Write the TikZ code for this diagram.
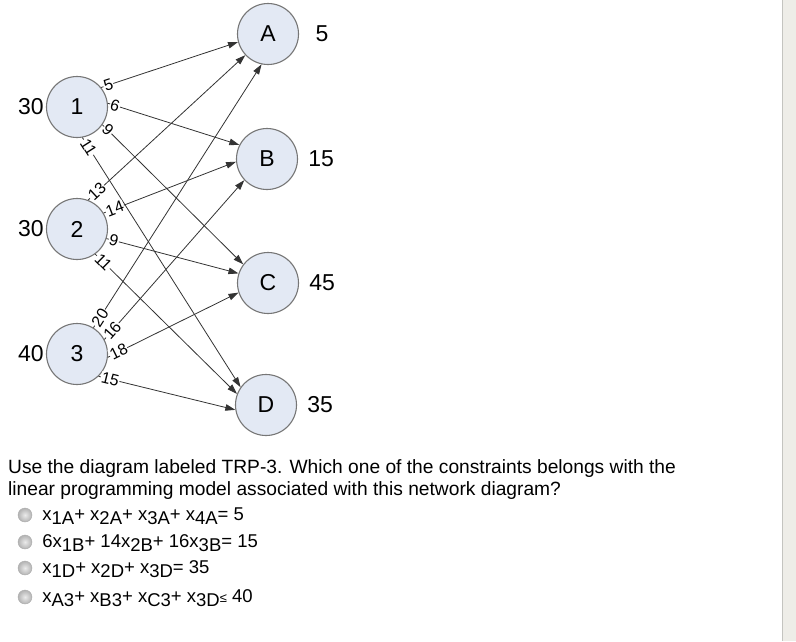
\documentclass[tikz,border=0pt]{standalone}
\usepackage{fontspec}
\setmainfont{Liberation Sans}
\usetikzlibrary{arrows.meta}

\definecolor{nodefill}{HTML}{E3E9F4}
\definecolor{nodeline}{HTML}{767676}
\definecolor{arrowgray}{HTML}{333333}
\definecolor{stripe}{HTML}{EEEDE8}
\definecolor{stripeline}{HTML}{C4C4C0}
\definecolor{radiorim}{HTML}{ABABAB}

\begin{document}
\begin{tikzpicture}[x=1pt,y=-1pt,
	site/.style={circle, draw=nodeline, fill=nodefill, line width=1.1pt,
		minimum size=61pt, inner sep=0pt, font=\fontsize{23}{23}\selectfont},
	flow/.style={draw=arrowgray, line width=0.8pt,
		-{Triangle[length=10pt,width=6.5pt]}},
	cost/.style={sloped, pos=0, anchor=west, outer xsep=2.5pt, fill=white,
		inner sep=0.6pt, font=\fontsize{16}{16}\selectfont},
	amount/.style={font=\fontsize{23}{23}\selectfont, inner sep=0pt},
	radio/.style={circle, draw=radiorim, inner sep=0pt, minimum size=14pt,
		inner color=black!8, outer color=black!30}]
	\useasboundingbox (0,0) rectangle (796,641);
	% scrollbar strip on the right
	\fill[stripe] (782,0) rectangle (796,641);
	\draw[stripeline, line width=1.2pt] (782.6,0) -- (782.6,641);

	% sources and sinks
	\node[site] (n1) at (77,107) {1};
	\node[site] (n2) at (77,229) {2};
	\node[site] (n3) at (77,354) {3};
	\node[site] (A) at (268,34) {A};
	\node[site] (B) at (267,159) {B};
	\node[site] (C) at (268,283) {C};
	\node[site] (D) at (266,405) {D};

	\foreach \src/\amt in {n1/30, n2/30, n3/40}
		\node[amount, anchor=east, xshift=-2pt] at (\src.west) {\amt};
	\foreach \dst/\amt in {A/5, B/15, C/45, D/35}
		\node[amount, xshift=23pt] at (\dst.east) {\amt};

	% shipping routes with unit costs
	\foreach \src/\sa/\dst/\da/\cst in {
			n1/39/A/195/5, n1/7/B/153/6, n1/-35/C/143/9, n1/-80/D/145/11,
			n2/69/A/223/13, n2/31/B/185/14, n2/-18/C/162/9, n2/-54/D/159/11,
			n3/58/A/258/20, n3/28/B/223/16, n3/-6/C/198/18, n3/-46/D/189/15}
		\draw[flow] (\src.\sa) -- node[cost] {\cst} (\dst.\da);

	% question
	\node[anchor=base west, inner sep=0pt, font=\fontsize{19.2}{19.2}\selectfont]
		(q1) at (8,473) {Use the diagram labeled TRP-3. Which one of the constraints belongs with the};
	\node[anchor=base west, inner sep=0pt, font=\fontsize{19.2}{19.2}\selectfont]
		(q2) at (8,495) {linear programming model associated with this network diagram?};

	\foreach \y/\txt in {
			515/{x\raisebox{-4.5pt}{1A}+ x\raisebox{-4.5pt}{2A}+ x\raisebox{-4.5pt}{3A}+ x\raisebox{-4.5pt}{4A}= 5},
			542/{6x\raisebox{-4.5pt}{1B}+ 14x\raisebox{-4.5pt}{2B}+ 16x\raisebox{-4.5pt}{3B}= 15},
			568/{x\raisebox{-4.5pt}{1D}+ x\raisebox{-4.5pt}{2D}+ x\raisebox{-4.5pt}{3D}= 35},
			597/{x\raisebox{-4.5pt}{A3}+ x\raisebox{-4.5pt}{B3}+ x\raisebox{-4.5pt}{C3}+ x\raisebox{-4.5pt}{3D}{\fontsize{13}{13}\selectfont≤} 40}} {
		\node[radio] (r\y) at (25,\y) {};
		\node[anchor=base west, inner sep=0pt, font=\fontsize{18.5}{18.5}\selectfont]
			at ([xshift=10pt, yshift=-5pt]r\y.east) {\txt};
	}
\end{tikzpicture}
\end{document}
